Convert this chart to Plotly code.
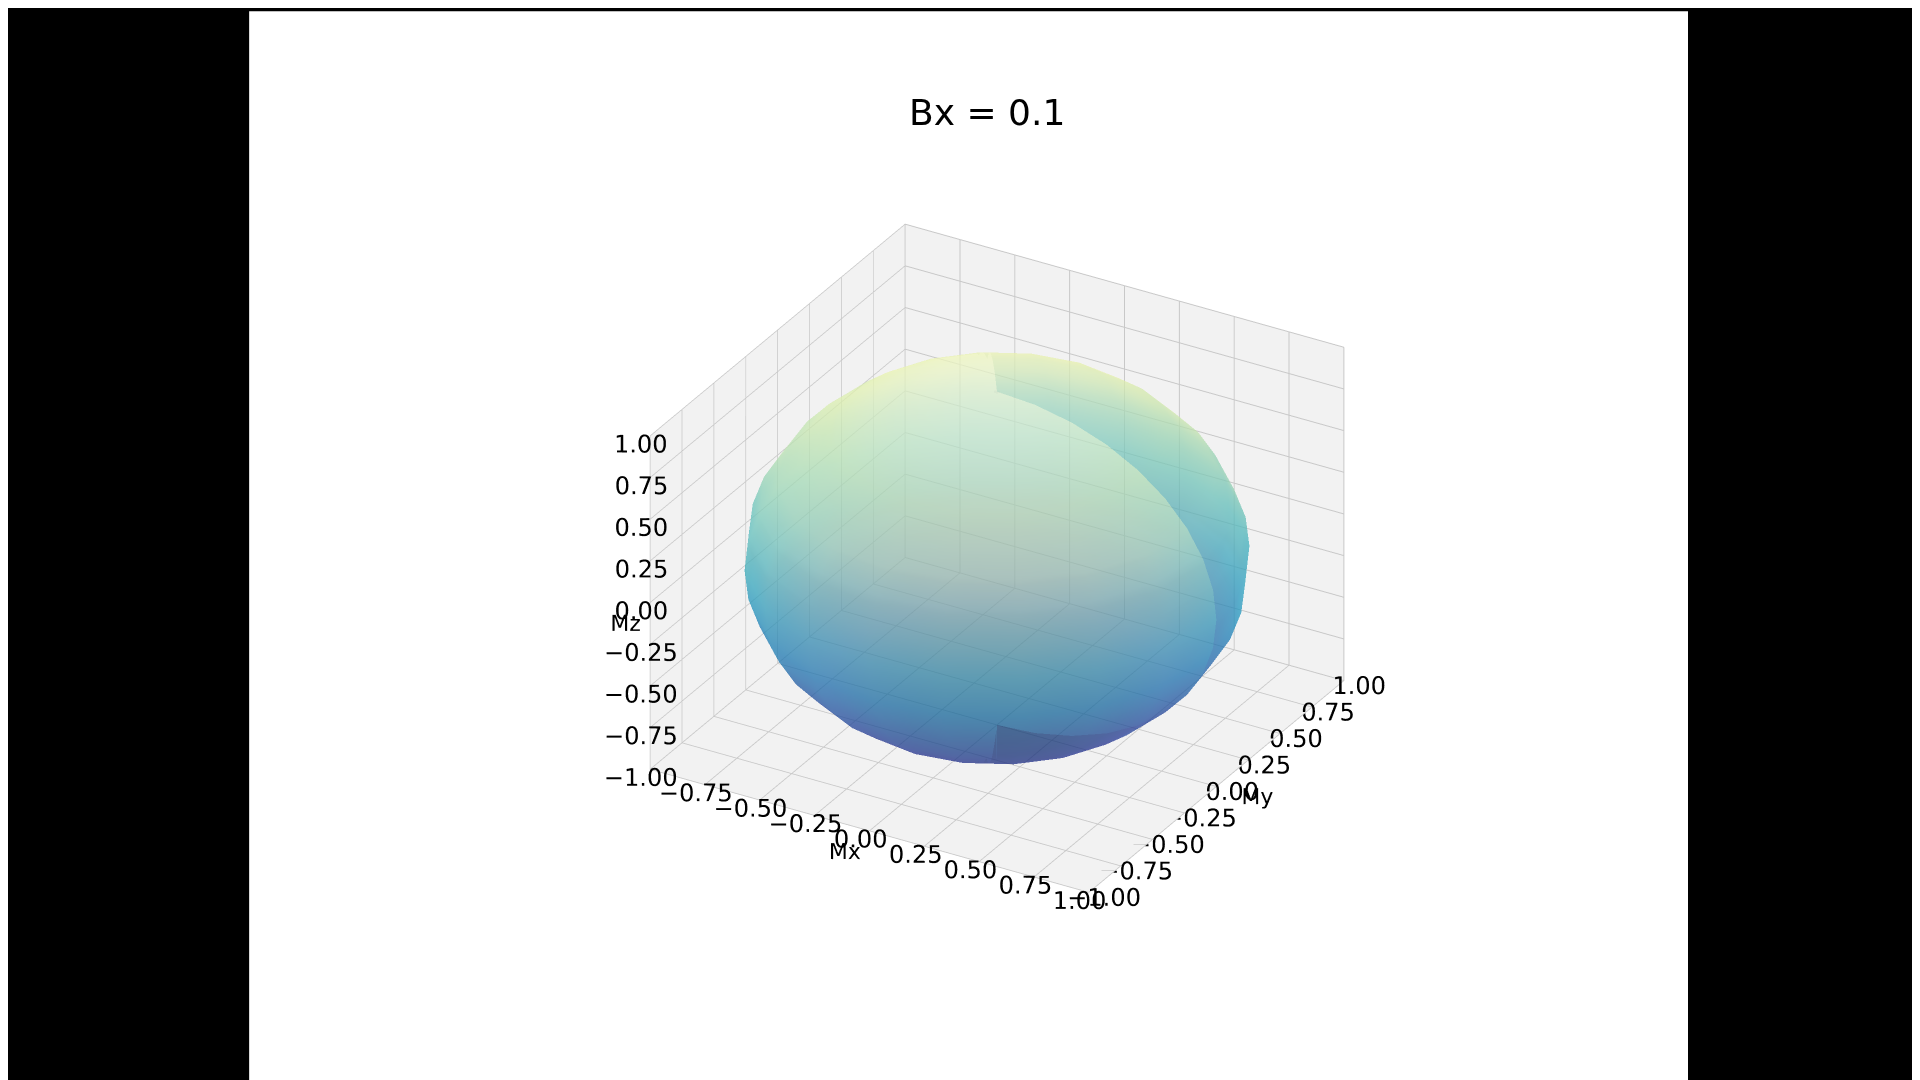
import numpy as np
import plotly.graph_objects as go

title_text = "Bx = 0.1"
theta_deg = [0, 10, 20, 30, 40, 50, 60, 70, 80, 90, 100, 110, 120, 130, 140, 150, 160, 170, 180]
phi_deg = [0, 18, 36, 54, 72, 90, 108, 126, 144, 162, 180, 198, 216, 234, 252, 270, 288, 306, 324, 342, 360]
tick_vals = [-1.0, -0.75, -0.5, -0.25, 0.0, 0.25, 0.5, 0.75, 1.0]
tick_text = ["\u22121.00", "\u22120.75", "\u22120.50", "\u22120.25", "0.00", "0.25", "0.50", "0.75", "1.00"]

th = np.radians(theta_deg)[:, None]
ph = np.radians(phi_deg)[None, :]
X = np.sin(th) * np.cos(ph)
Y = np.sin(th) * np.sin(ph)
Z = np.cos(th) * np.ones_like(ph)

fig = go.Figure(go.Surface(x=X, y=Y, z=Z, surfacecolor=Z, colorscale="YlGnBu", reversescale=True,
                           opacity=0.5, showscale=False,
                           lighting=dict(ambient=0.95, diffuse=0.2, specular=0.0)))

def ax(name):
    return dict(title=dict(text=name, font=dict(size=22)), range=[-1, 1], tickvals=tick_vals, ticktext=tick_text,
                tickfont=dict(size=17), backgroundcolor="rgb(242,242,242)", showbackground=True,
                gridcolor="rgb(200,200,200)", zeroline=False, showspikes=False, tickangle=0)

fig.update_layout(
    width=1920, height=1080, paper_bgcolor="black", margin=dict(l=0, r=0, t=0, b=0),
    font=dict(family="DejaVu Sans", color="black"),
    shapes=[dict(type="rect", xref="paper", yref="paper", x0=0.1256, x1=0.875, y0=0, y1=0.997,
                 fillcolor="white", line=dict(width=0), layer="below")],
    title=dict(text=title_text, x=0.51, y=0.903, xanchor="center", yanchor="middle", font=dict(size=36)),
    scene=dict(domain=dict(x=[0.13, 0.9], y=[0.0, 0.94]),
               xaxis=ax("Mx"), yaxis=ax("My"), zaxis=ax("Mz"),
               aspectmode="manual", aspectratio=dict(x=1, y=1, z=0.75),
               camera=dict(eye=dict(x=0.93, y=-1.6, z=0.97), center=dict(x=0, y=0, z=-0.05),
                           projection=dict(type="orthographic"))),
)
fig.write_html("out.html")
